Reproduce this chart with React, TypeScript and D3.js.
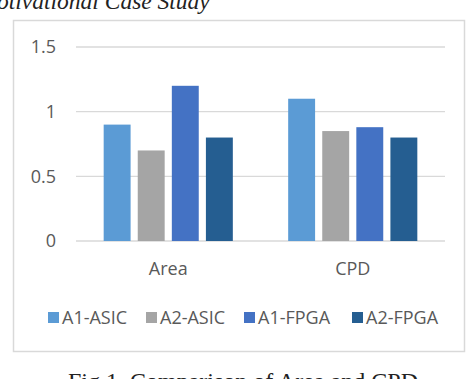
import React from "react";
import * as d3 from "d3";

const categories = ["Area", "CPD"];
const seriesNames = ["A1-ASIC", "A2-ASIC", "A1-FPGA", "A2-FPGA"];
const seriesColors = ["#5B9BD5", "#A5A5A5", "#4472C4", "#255E91"];
const a1Asic = [0.9, 1.1];
const a2Asic = [0.7, 0.85];
const a1Fpga = [1.2, 0.88];
const a2Fpga = [0.8, 0.8];
const yTicks = [0, 0.5, 1, 1.5];

export default function App() {
  const W = 474, H = 379;
  const left = 76, right = 445, top = 47, bottom = 241;
  const values = [a1Asic, a2Asic, a1Fpga, a2Fpga];
  const x0 = d3.scaleBand<string>().domain(categories).range([left, right]).paddingInner(0.3).paddingOuter(0.15);
  const x1 = d3.scaleBand<string>().domain(seriesNames).range([0, x0.bandwidth()]).paddingInner(0.21);
  const y = d3.scaleLinear().domain([0, 1.5]).range([bottom, top]);
  const font = "Open Sans, sans-serif";
  const legendX = [48, 146, 244, 352];
  return (
    <svg width={W} height={H} style={{ position: "absolute", left: 0, top: 0, background: "#fff" }}>
      <rect x={0} y={0} width={W} height={H} fill="#fff" />
      <text x={-3} y={9} fontFamily="Liberation Serif, serif" fontStyle="italic" fontSize={23.5} fill="#222">otivational Case Study</text>
      <rect x={13.5} y={20.5} width={451} height={331} fill="#fff" stroke="#d9d9d9" strokeWidth={1.5} />
      {yTicks.map((t) => (
        <g key={t}>
          <line x1={left} x2={right} y1={y(t)} y2={y(t)} stroke="#d9d9d9" strokeWidth={1.3} />
          <text x={56} y={y(t)} dy="0.35em" textAnchor="end" fontFamily={font} fontSize={18} fill="#595959">{t}</text>
        </g>
      ))}
      {categories.map((c, ci) => (
        <g key={c}>
          {seriesNames.map((s, si) => (
            <rect key={s} x={(x0(c) as number) + (x1(s) as number)} y={y(values[si][ci])}
              width={x1.bandwidth()} height={y(0) - y(values[si][ci])} fill={seriesColors[si]} />
          ))}
          <text x={(x0(c) as number) + x0.bandwidth() / 2} y={269} dy="0.35em" textAnchor="middle" fontFamily={font} fontSize={18} fill="#595959">{c}</text>
        </g>
      ))}
      {seriesNames.map((s, i) => (
        <g key={s}>
          <rect x={legendX[i]} y={312} width={11} height={11} fill={seriesColors[i]} />
          <text x={legendX[i] + 14} y={317.5} dy="0.35em" fontFamily={font} fontSize={18} fill="#595959">{s}</text>
        </g>
      ))}
      <text x={243} y={389} textAnchor="middle" fontFamily="Liberation Serif, serif" fontSize={24} fill="#222">Fig.1. Comparison of Area and CPD</text>
    </svg>
  );
}
